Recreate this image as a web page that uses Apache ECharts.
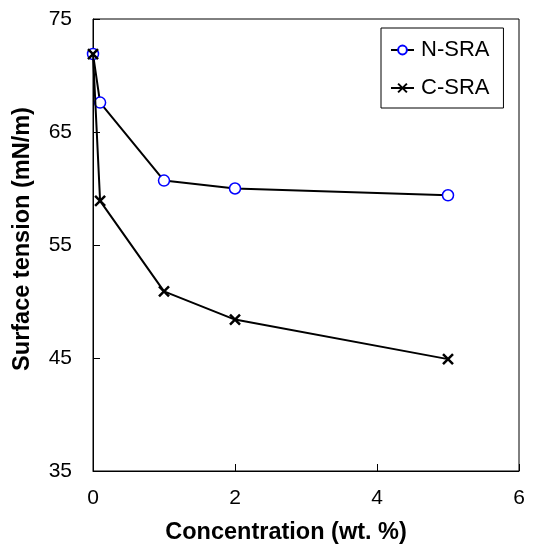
<!DOCTYPE html>
<html lang="en">
<head>
    <meta charset="UTF-8">
    <title>Surface tension</title>
    <script src="https://cdn.jsdelivr.net/npm/echarts@6/dist/echarts.min.js"></script>
    <style>
        body, html {
            margin: 0;
            padding: 0;
            background-color: #ffffff;
        }
        #chart {
            width: 538px;
            height: 550px;
        }
    </style>
</head>
<body>
    <div id="chart"></div>
    <script>
        // concentration (wt. %)
        const concentration = [0, 0.1, 1, 2, 5];
        const nSra = [71.9, 67.6, 60.7, 60.0, 59.4];
        const cSra = [71.9, 58.9, 50.9, 48.4, 44.9];
        const seriesNames = ['N-SRA', 'C-SRA'];

        const font = 'Arial, "Liberation Sans", sans-serif';
        const crossPath = 'path://M0,0L10,10M10,0L0,10';

        const chart = echarts.init(document.getElementById('chart'));
        const option = {
            backgroundColor: '#ffffff',
            animation: false,
            grid: {
                left: 93,
                right: 19,
                top: 19,
                bottom: 78,
                show: true,
                borderColor: '#000',
                borderWidth: 1
            },
            legend: {
                orient: 'vertical',
                left: 381,
                top: 28,
                padding: [11, 14, 9, 9],
                itemGap: 16,
                itemWidth: 23,
                itemHeight: 11,
                borderColor: '#000',
                borderWidth: 1,
                textStyle: { fontFamily: font, fontSize: 22, color: '#000', padding: [0, 0, 0, 2] },
                data: seriesNames
            },
            xAxis: {
                type: 'value',
                min: 0,
                max: 6,
                interval: 2,
                name: 'Concentration (wt. %)',
                nameLocation: 'middle',
                nameGap: 50,
                // the title sits a little left of the axis centre
                nameTextStyle: { fontFamily: font, fontSize: 23.5, fontWeight: 'bold', color: '#000', padding: [0, 40, 0, 0] },
                axisLine: { lineStyle: { color: '#000', width: 1 } },
                axisTick: { inside: true, length: 7, lineStyle: { color: '#000' } },
                axisLabel: { fontFamily: font, fontSize: 21, color: '#000', margin: 17 },
                splitLine: { show: false }
            },
            yAxis: {
                type: 'value',
                min: 35,
                max: 75,
                interval: 10,
                name: 'Surface tension (mN/m)',
                nameLocation: 'middle',
                nameGap: 58,
                nameTextStyle: { fontFamily: font, fontSize: 23.5, fontWeight: 'bold', color: '#000', padding: [0, 0, 0, 12] },
                axisLine: { show: true, lineStyle: { color: '#000', width: 1 } },
                axisTick: { show: true, inside: true, length: 7, lineStyle: { color: '#000' } },
                axisLabel: { fontFamily: font, fontSize: 21, color: '#000', margin: 21 },
                splitLine: { show: false }
            },
            series: [
                {
                    name: seriesNames[0],
                    type: 'line',
                    data: concentration.map((x, i) => [x, nSra[i]]),
                    symbol: 'circle',
                    symbolSize: 11,
                    lineStyle: { color: '#000', width: 2 },
                    itemStyle: { color: '#fff', borderColor: '#0000ff', borderWidth: 1.5 },
                    z: 3
                },
                {
                    name: seriesNames[1],
                    type: 'line',
                    data: concentration.map((x, i) => [x, cSra[i]]),
                    symbol: crossPath,
                    symbolSize: 10,
                    lineStyle: { color: '#000', width: 2 },
                    itemStyle: { color: '#000', borderColor: '#000', borderWidth: 2.5 },
                    z: 4
                }
            ]
        };
        chart.setOption(option);
    </script>
</body>
</html>
